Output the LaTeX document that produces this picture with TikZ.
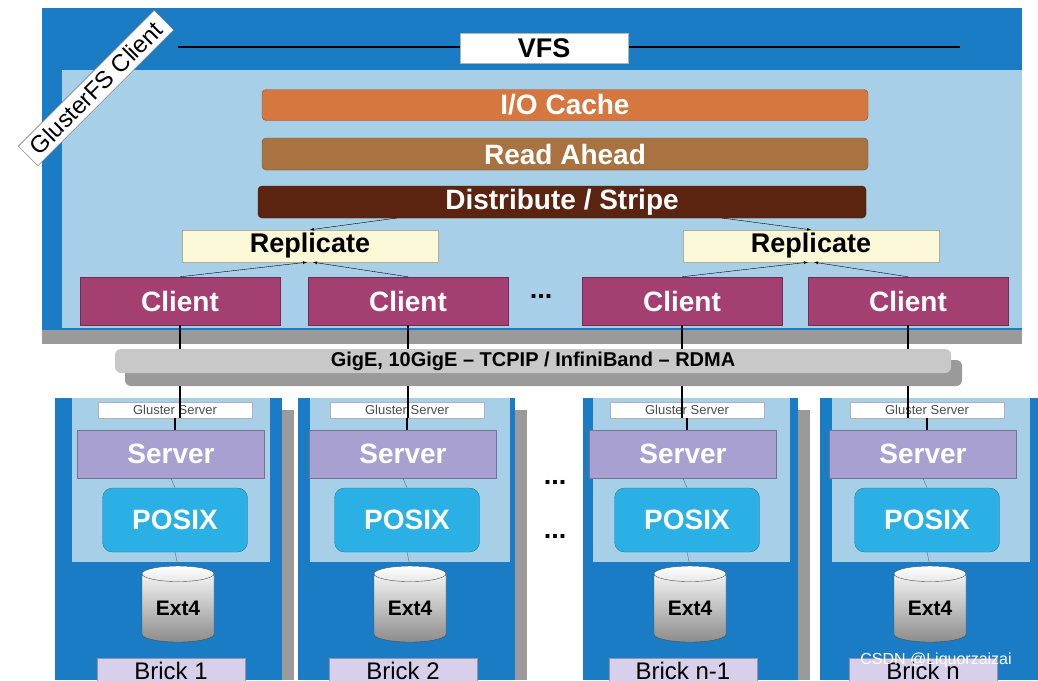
\documentclass[tikz,border=0pt]{standalone}
\usepackage{fontspec}
\setmainfont{Liberation Sans}
\usetikzlibrary{shapes.geometric}
\definecolor{dblue}{HTML}{1A7CC4}
\definecolor{lblue}{HTML}{A8CFE8}
\definecolor{iocache}{HTML}{D5773F}
\definecolor{readahead}{HTML}{A87340}
\definecolor{distr}{HTML}{5B2410}
\definecolor{repl}{HTML}{FBF8D8}
\definecolor{client}{HTML}{A43F72}
\definecolor{server}{HTML}{A8A0D0}
\definecolor{posix}{HTML}{2AB0E4}
\definecolor{brick}{HTML}{D8D0EA}
\definecolor{gbar}{HTML}{C8C8C8}
\definecolor{gshadow}{HTML}{9A9A9A}
\begin{document}
\begin{tikzpicture}[x=1pt,y=-1pt,
  box/.style={draw=#1!70!black,fill=#1,inner sep=0pt},
  bar/.style={rounded corners=4pt,draw=#1!70!black,fill=#1,inner sep=0pt},
  wt/.style={text=white,font=\fontsize{28}{28}\selectfont\bfseries},
  bt/.style={text=black,font=\fontsize{27}{27}\selectfont\bfseries},
  arr/.style={-latex,thin},
  vline/.style={line width=2.5pt,black}]
\useasboundingbox (0,0) rectangle (1038,680);
\fill[white] (0,0) rectangle (1038,680);
% client area
\fill[dblue] (42,8) rectangle (1022,330);
\fill[lblue] (62,70) rectangle (1022,328);
\fill[gshadow] (42,330) rectangle (1022,344);
\draw[line width=1.5pt] (178,47) -- (960,47);
\node[box=white,minimum width=168pt,minimum height=30pt,bt] (vfs) at (544,48) {VFS};
\node[bar=iocache,minimum width=606pt,minimum height=31pt,wt] (io) at (565,105) {I/O Cache};
\node[bar=readahead,minimum width=606pt,minimum height=32pt,wt] (ra) at (565,154) {Read Ahead};
\node[bar=distr,minimum width=608pt,minimum height=32pt,wt] (ds) at (562,202) {Distribute / Stripe};
\node[box=repl,minimum width=256pt,minimum height=32pt,bt] (r1) at (310,246) {Replicate};
\node[box=repl,minimum width=256pt,minimum height=32pt,bt] (r2) at (811,246) {Replicate};
\node[box=client,minimum width=200pt,minimum height=48pt,wt] (c1) at (180,301) {Client};
\node[box=client,minimum width=200pt,minimum height=48pt,wt] (c2) at (408,301) {Client};
\node[box=client,minimum width=200pt,minimum height=48pt,wt] (c3) at (682,301) {Client};
\node[box=client,minimum width=200pt,minimum height=48pt,wt] (c4) at (908,301) {Client};
\node[bt] (dots1) at (541,296) {...};
\coordinate (d1) at (397,218); \coordinate (d2) at (722,218);
\draw[arr] (d1) -- (r1.north);
\draw[arr] (d2) -- (r2.north);
\draw[arr] (c1.north) -- ([xshift=-3pt]r1.south);
\draw[arr] (c2.north) -- ([xshift=3pt]r1.south);
\draw[arr] (c3.north) -- ([xshift=-3pt]r2.south);
\draw[arr] (c4.north) -- ([xshift=3pt]r2.south);
\node[draw=black!60,fill=white,rotate=45,inner xsep=8pt,inner ysep=5pt,font=\fontsize{24}{24}\selectfont] (gfc) at (96,88) {GlusterFS Client};
% server columns
\foreach \i/\xa/\xb/\ia/\ib/\cx/\lbl in {1/55/282/72/270/178/Brick 1,2/298/515/310/510/410/Brick 2,3/583/798/593/790/690/Brick n-1,4/820/1038/832/1030/930/Brick n}{
  \fill[gshadow] (\xb,410) rectangle (\xb+12,680);
  \fill[dblue] (\xa,398) rectangle (\xb,680);
  \fill[lblue] (\ia,398) rectangle (\ib,562);
  \node[box=white,minimum width=154pt,minimum height=16pt,font=\fontsize{13}{13}\selectfont,text=black!70] (gs\i) at (\cx-3,410) {Gluster Server};
  \node[box=server,minimum width=187pt,minimum height=48pt,wt] (sv\i) at (\cx-7,454) {Server};
  \node[bar=posix,rounded corners=10pt,minimum width=145pt,minimum height=64pt,wt] (px\i) at (\cx-3,520) {POSIX};
  \node[cylinder,shape border rotate=90,aspect=0.35,draw=black!70,top color=white,bottom color=black!45,minimum width=72pt,minimum height=76pt,inner sep=0pt,bt,font=\fontsize{21}{21}\selectfont\bfseries] (e\i) at (\cx,608) {\raisebox{-6pt}{Ext4}};
  \node[box=brick,minimum width=148pt,minimum height=26pt,font=\fontsize{24}{24}\selectfont,text=black,anchor=north] (b\i) at (\cx-7,658) {\lbl};
  \draw[thin,black!60] (sv\i.south) -- (px\i.north);
  \draw[thin,black!60] (px\i.south) -- (e\i.north);
}
\foreach \c/\g in {c1/gs1,c2/gs2,c3/gs3,c4/gs4}{
  \draw[vline] (\c.south) -- (\c.south |- \g.south);
}
\foreach \g/\s in {gs1/sv1,gs2/sv2,gs3/sv3,gs4/sv4}{
  \draw[vline] (\g.south) -- (\g.south |- \s.north);
}
% network
\fill[gshadow,rounded corners=6pt] (125,360) rectangle (962,386);
\node[fill=gbar,rounded corners=6pt,minimum width=836pt,minimum height=24pt,inner sep=0pt,font=\fontsize{20}{20}\selectfont\bfseries] (net) at (533,361) {GigE, 10GigE -- TCPIP / InfiniBand -- RDMA};
\node[bt] (dots2) at (555,482) {...};
\node[bt] (dots3) at (555,536) {...};
\node[text=white,font=\fontsize{16}{16}\selectfont] (wm) at (936,660) {CSDN @Liquorzaizai};
\end{tikzpicture}
\end{document}
